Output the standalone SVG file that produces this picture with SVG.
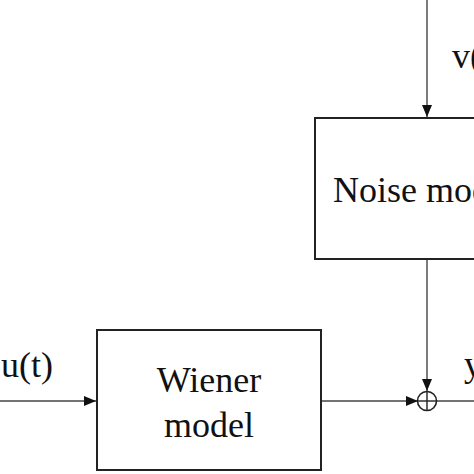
<svg xmlns="http://www.w3.org/2000/svg" width="474" height="474" viewBox="0 0 474 474">
<defs>
<style>
.box{fill:#fff;stroke:#222;stroke-width:2}
.ln{fill:none;stroke:#444;stroke-width:1.4}
.t{font-family:"Liberation Serif","Times New Roman",serif;font-size:36px;fill:#111}
</style>
<marker id="ah" viewBox="0 0 12 10" refX="12" refY="5" markerWidth="12" markerHeight="10" markerUnits="userSpaceOnUse" orient="auto">
<path d="M0,0 L12,5 L0,10 Z" fill="#111"/>
</marker>
</defs>
<rect width="474" height="474" fill="#fff"/>
<g id="connectors">
<line class="ln" x1="0" y1="401" x2="96" y2="401" marker-end="url(#ah)"/>
<line class="ln" x1="322" y1="401" x2="418" y2="401" marker-end="url(#ah)"/>
<line class="ln" x1="427" y1="0" x2="427" y2="117" marker-end="url(#ah)"/>
<line class="ln" x1="427" y1="259" x2="427" y2="391" marker-end="url(#ah)"/>
<line class="ln" x1="437" y1="401" x2="474" y2="401"/>
</g>
<g id="wiener">
<rect class="box" x="97" y="330" width="224" height="140"/>
<text class="t" x="209" y="392" text-anchor="middle">Wiener</text>
<text class="t" x="209" y="437" text-anchor="middle">model</text>
</g>
<g id="noise">
<rect class="box" x="315" y="118" width="175" height="141"/>
<text class="t" x="333" y="202">Noise model</text>
</g>
<g id="sum">
<circle cx="427" cy="401" r="9.5" fill="#fff" stroke="#222" stroke-width="1.6"/>
<line x1="417.5" y1="401" x2="436.5" y2="401" stroke="#222" stroke-width="1.4"/>
<line x1="427" y1="391.5" x2="427" y2="410.5" stroke="#222" stroke-width="1.4"/>
</g>
<text class="t" x="1" y="377">u(t)</text>
<text class="t" x="452" y="68">v(t)</text>
<text class="t" x="464" y="376">y(t)</text>
</svg>
